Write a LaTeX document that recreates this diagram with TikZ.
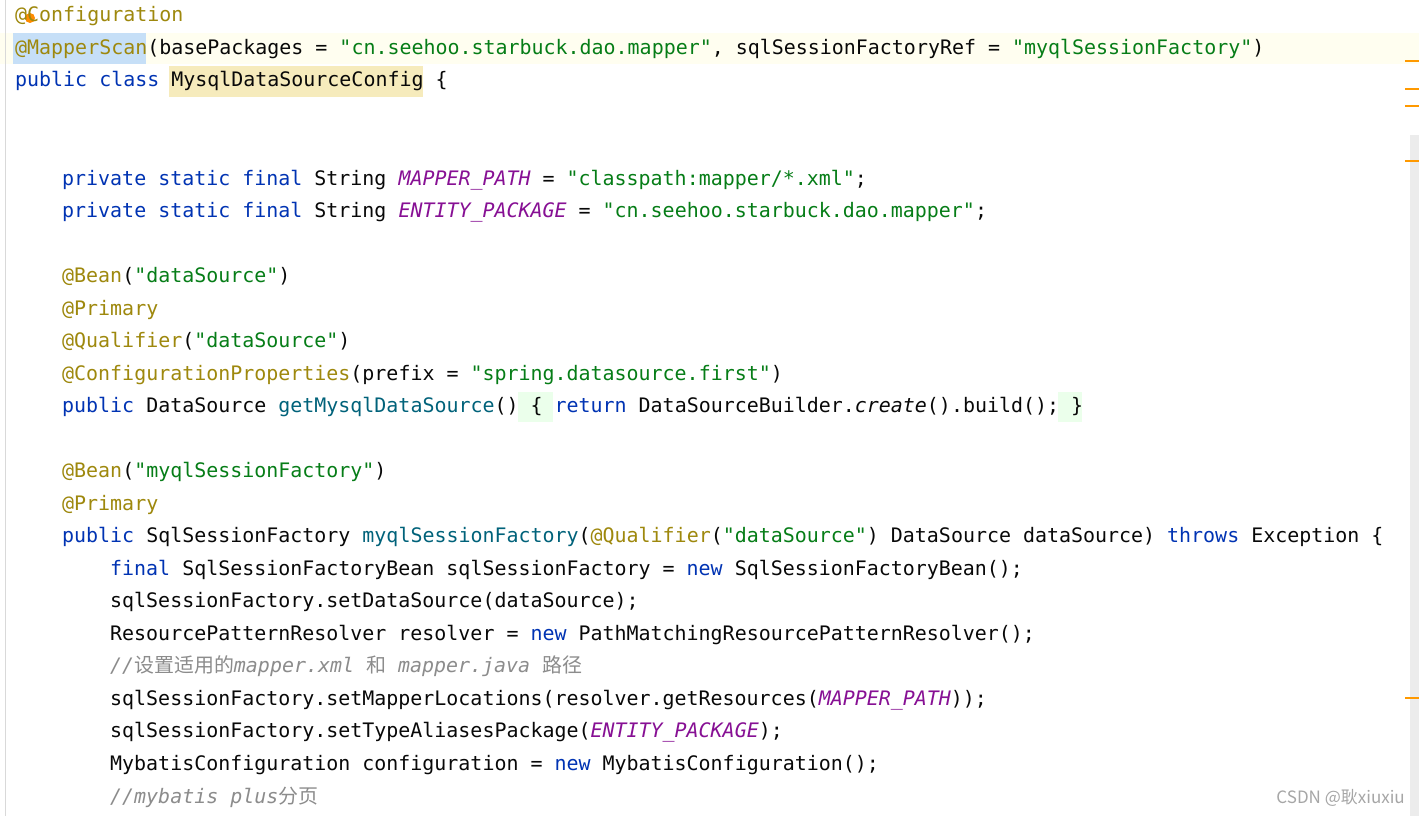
\documentclass[tikz,border=0pt]{standalone}
\usepackage{fontspec}
\setmonofont{DejaVu Sans Mono}
\newfontfamily\cjk{Noto Sans CJK SC}
\definecolor{kw}{HTML}{0033B3}
\definecolor{st}{HTML}{067D17}
\definecolor{an}{HTML}{9E880D}
\definecolor{fl}{HTML}{871094}
\definecolor{mt}{HTML}{00627A}
\definecolor{cm}{HTML}{8C8C8C}
\definecolor{tx}{HTML}{080808}
\definecolor{selb}{HTML}{C6DFF7}
\definecolor{clsb}{HTML}{F6EBBC}
\newcommand{\Kw}[1]{\textcolor{kw}{#1}}
\newcommand{\St}[1]{\textcolor{st}{#1}}
\newcommand{\An}[1]{\textcolor{an}{#1}}
\newcommand{\Fl}[1]{\textcolor{fl}{\itshape #1}}
\newcommand{\Mt}[1]{\textcolor{mt}{#1}}
\newcommand{\Cm}[1]{\textcolor{cm}{\itshape #1}}
\begin{document}
\begin{tikzpicture}[x=1pt,y=-1pt,
  code/.style={anchor=base west,inner sep=0pt,text=tx,font=\ttfamily\fontsize{19.95}{24}\selectfont}]
\useasboundingbox (0,0) rectangle (1419,816);
\fill[white] (0,0) rectangle (1419,816);
% highlights
\fill[yellow!6] (0,33) rectangle (1419,64);
\fill[selb] (13,33) rectangle (146,64);
\fill[clsb] (169,66) rectangle (423,97);
\fill[green!8] (518,392) rectangle (553,422);
\fill[green!8] (1058,392) rectangle (1082,422);
% gutter
\draw[gray!30] (5,0) -- (5,816);
\fill[gray!15] (1410,135) rectangle (1419,816);
\foreach \yy in {60,88,105,160} \fill[orange!80!yellow] (1405,\yy) rectangle (1419,\yy+2);
\fill[orange!80!yellow] (1405,697) rectangle (1419,699);
\fill[orange!90!yellow] (30,18) circle (5);
\node[code] (a1) at (15,22) {\An{@Configuration}};
\node[code] (a2) at (15,55) {\An{@MapperScan}(basePackages = \St{"cn.seehoo.starbuck.dao.mapper"}, sqlSessionFactoryRef = \St{"myqlSessionFactory"})};
\node[code] (a3) at (15,87) {\Kw{public class} MysqlDataSourceConfig \{};
\node[code] (a4) at (62,185) {\Kw{private static final} String \Fl{MAPPER\_PATH} = \St{"classpath:mapper/*.xml"};};
\node[code] (a5) at (62,217) {\Kw{private static final} String \Fl{ENTITY\_PACKAGE} = \St{"cn.seehoo.starbuck.dao.mapper"};};
\node[code] (a6) at (62,282) {\An{@Bean}(\St{"dataSource"})};
\node[code] (a7) at (62,315) {\An{@Primary}};
\node[code] (a8) at (62,347) {\An{@Qualifier}(\St{"dataSource"})};
\node[code] (a9) at (62,380) {\An{@ConfigurationProperties}(prefix = \St{"spring.datasource.first"})};
\node[code] (a10) at (62,412) {\Kw{public} DataSource \Mt{getMysqlDataSource}() \{ \Kw{return} DataSourceBuilder.{\itshape create}().build(); \}};
\node[code] (a11) at (62,477) {\An{@Bean}(\St{"myqlSessionFactory"})};
\node[code] (a12) at (62,510) {\An{@Primary}};
\node[code] (a13) at (62,542) {\Kw{public} SqlSessionFactory \Mt{myqlSessionFactory}(\An{@Qualifier}(\St{"dataSource"}) DataSource dataSource) \Kw{throws} Exception \{};
\node[code] (a14) at (110,575) {\Kw{final} SqlSessionFactoryBean sqlSessionFactory = \Kw{new} SqlSessionFactoryBean();};
\node[code] (a15) at (110,607) {sqlSessionFactory.setDataSource(dataSource);};
\node[code] (a16) at (110,640) {ResourcePatternResolver resolver = \Kw{new} PathMatchingResourcePatternResolver();};
\node[code] (a17) at (110,672) {\Cm{//{\cjk 设置适用的}mapper.xml {\cjk 和} mapper.java {\cjk 路径}}};
\node[code] (a18) at (110,705) {sqlSessionFactory.setMapperLocations(resolver.getResources(\Fl{MAPPER\_PATH}));};
\node[code] (a19) at (110,737) {sqlSessionFactory.setTypeAliasesPackage(\Fl{ENTITY\_PACKAGE});};
\node[code] (a20) at (110,770) {MybatisConfiguration configuration = \Kw{new} MybatisConfiguration();};
\node[code] (a21) at (110,803) {\Cm{//mybatis plus{\cjk 分页}}};
\node[anchor=south east,inner sep=0pt,text=gray!70,font=\cjk\fontsize{17}{20}\selectfont] (wm) at (1405,807) {CSDN @耿xiuxiu};
\end{tikzpicture}
\end{document}
